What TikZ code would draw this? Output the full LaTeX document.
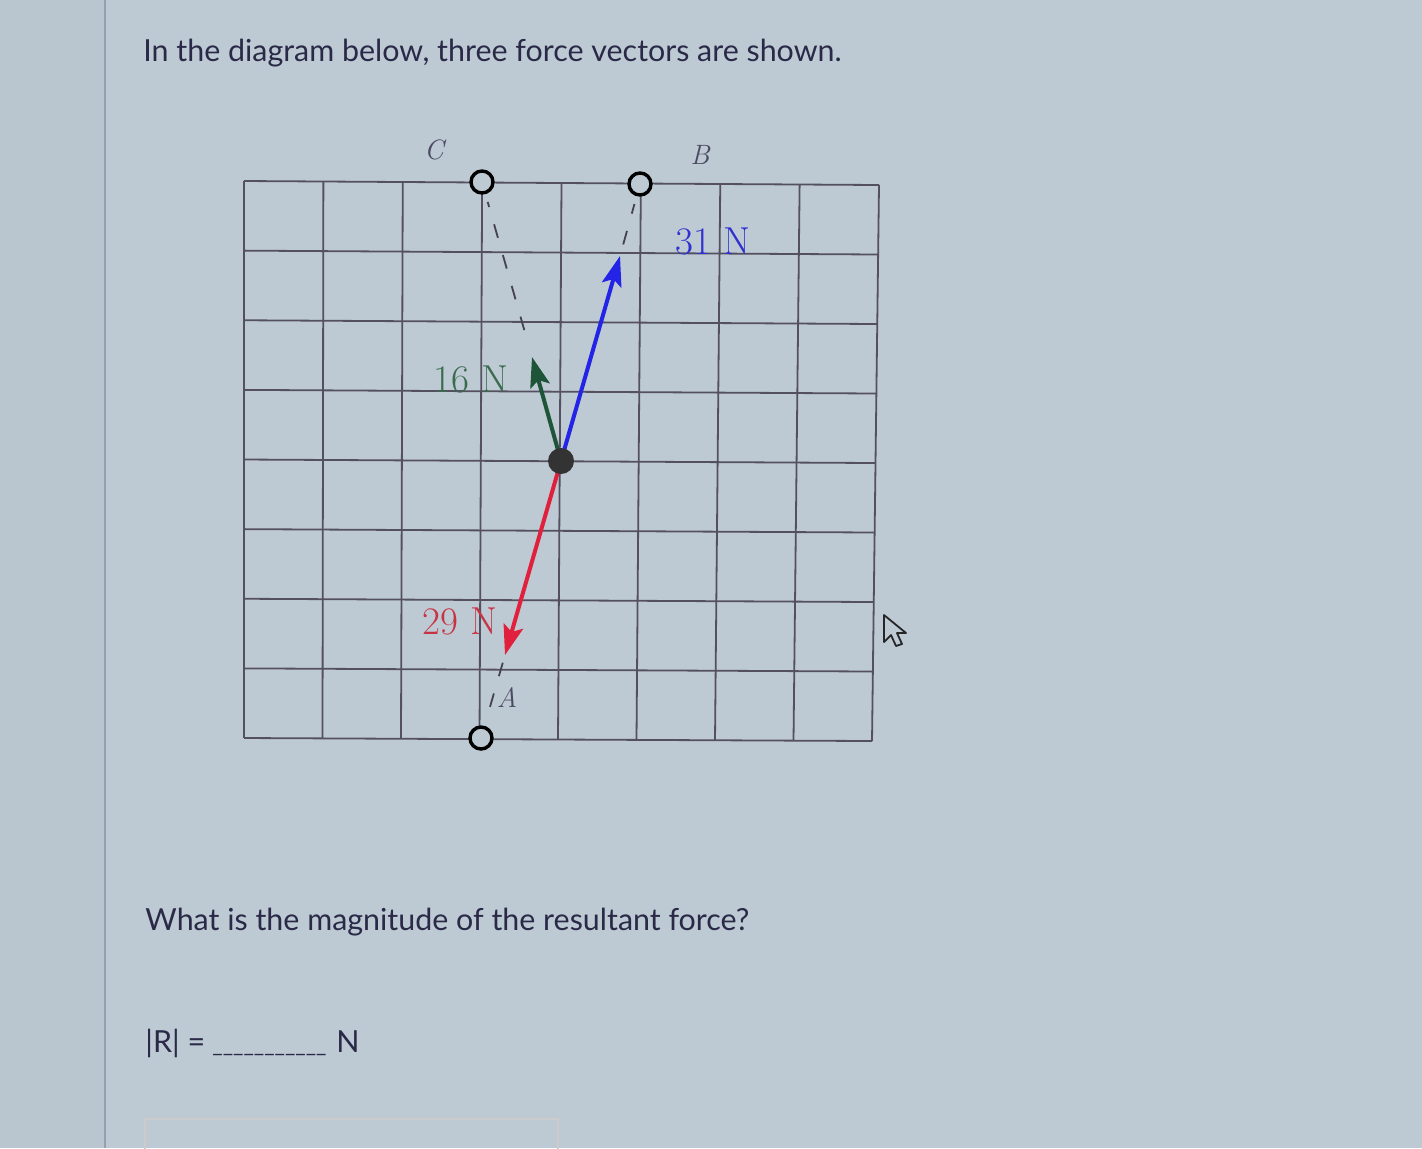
\documentclass[tikz,border=0pt]{standalone}
\usepackage{fontspec}
\setsansfont{Lato}
\usetikzlibrary{arrows.meta}
\definecolor{bg}{HTML}{BDCAD3}
\definecolor{bgleft}{HTML}{B9C6CF}
\definecolor{pageline}{HTML}{9A9FB0}
\definecolor{gridc}{HTML}{55505F}
\definecolor{ink}{HTML}{2A2A48}
\definecolor{vblue}{HTML}{2424E6}
\definecolor{vgreen}{HTML}{1E5538}
\definecolor{vred}{HTML}{E0203C}
\definecolor{lblue}{HTML}{3030D0}
\definecolor{lgreen}{HTML}{3A6B4F}
\definecolor{lred}{HTML}{C83343}
\definecolor{dashc}{HTML}{45424F}
\tikzset{
  gridline/.style={draw=gridc, line width=0.9pt},
  vec/.style={line width=2pt, -{Stealth[length=15pt,width=10pt,inset=3pt]}},
  dashline/.style={draw=dashc, line width=0.9pt, dash pattern=on 7pt off 9pt},
  ring/.style={circle, draw=black, fill=bg, line width=1.7pt, minimum size=11pt, inner sep=0pt},
  dot/.style={circle, fill=black!80, minimum size=13pt, inner sep=0pt},
  lbl/.style={font=\fontsize{19.5}{21}\selectfont, inner sep=0pt},
  pt/.style={font=\fontsize{14}{16}\selectfont\itshape, text=ink!85, inner sep=0pt},
  sans/.style={font=\sffamily\fontsize{15.2}{18}\selectfont, text=ink, inner sep=0pt, anchor=west}
}
\begin{document}
\begin{tikzpicture}[x=0.5pt,y=-0.5pt]
\useasboundingbox (0,0) rectangle (1422,1148);
\fill[bg] (0,0) rectangle (1422,1148);
\fill[bgleft] (0,0) rectangle (105,1148);
\draw[pageline, line width=1pt] (105,0) -- (105,1148);

% question text
\node[sans] (q1) at (143,53) {In the diagram below, three force vectors are shown.};
\node[sans] (q2) at (145,922) {What is the magnitude of the resultant force?};
\node[sans, anchor=base west] (ans) at (145,1052) {|R| =};
\node[sans, anchor=base west, font=\sffamily\fontsize{11.3}{13}\selectfont] (blank) at (212,1052) {\_\_\_\_\_\_\_\_\_\_\_};
\node[sans, anchor=base west] (unit) at (336,1052) {N};
\draw[draw=black!20, line width=0.6pt] (145,1160) -- (145,1119) -- (558,1119) -- (558,1160);

% grid
\foreach \i in {0,...,8} {
  \draw[gridline] ({244+\i*79.375},{181+\i*0.5}) -- ({244+\i*78.5},{738+\i*0.375});
}
\foreach \j in {0,...,8} {
  \draw[gridline] (244,{181+\j*69.625}) -- ({879-\j*0.875},{185+\j*69.5});
}

% points
\coordinate (o) at (561,461);
\coordinate (gt) at (532,357);
\coordinate (bt) at (620,256);
\coordinate (rt) at (505,655);
\node[ring] (C) at (482,182) {};
\node[ring] (B) at (640,184) {};
\node[ring] (A) at (481,738) {};

% dashed continuations
\draw[dashline, shorten <=14pt, shorten >=4pt] (gt) -- (C);
\draw[dashline, shorten <=6pt, shorten >=4pt] (bt) -- (B);
\draw[dashline, shorten <=4pt, shorten >=4pt] (rt) -- (A);

% vectors
\draw[vec, vgreen] (o) -- (gt);
\draw[vec, vblue] (o) -- (bt);
\draw[vec, vred] (o) -- (rt);
\node[dot] (O) at (o) {};

% labels
\node[lbl, text=lblue] (l31) at (713,241) {31 N};
\node[lbl, text=lgreen] (l16) at (471,379) {16 N};
\node[lbl, text=lred] (l29) at (460,621) {29 N};
\node[pt] (lc) at (434,150) {C};
\node[pt] (lb) at (700,155) {B};
\node[pt] (la) at (507,697) {A};

% mouse cursor
\draw[draw=black!85, fill=bg, line width=0.9pt, line join=round]
  (884,615) -- (884,642) -- (891,635) -- (896,646) -- (902,644) -- (897,633) -- (906,633) -- cycle;
\end{tikzpicture}
\end{document}
